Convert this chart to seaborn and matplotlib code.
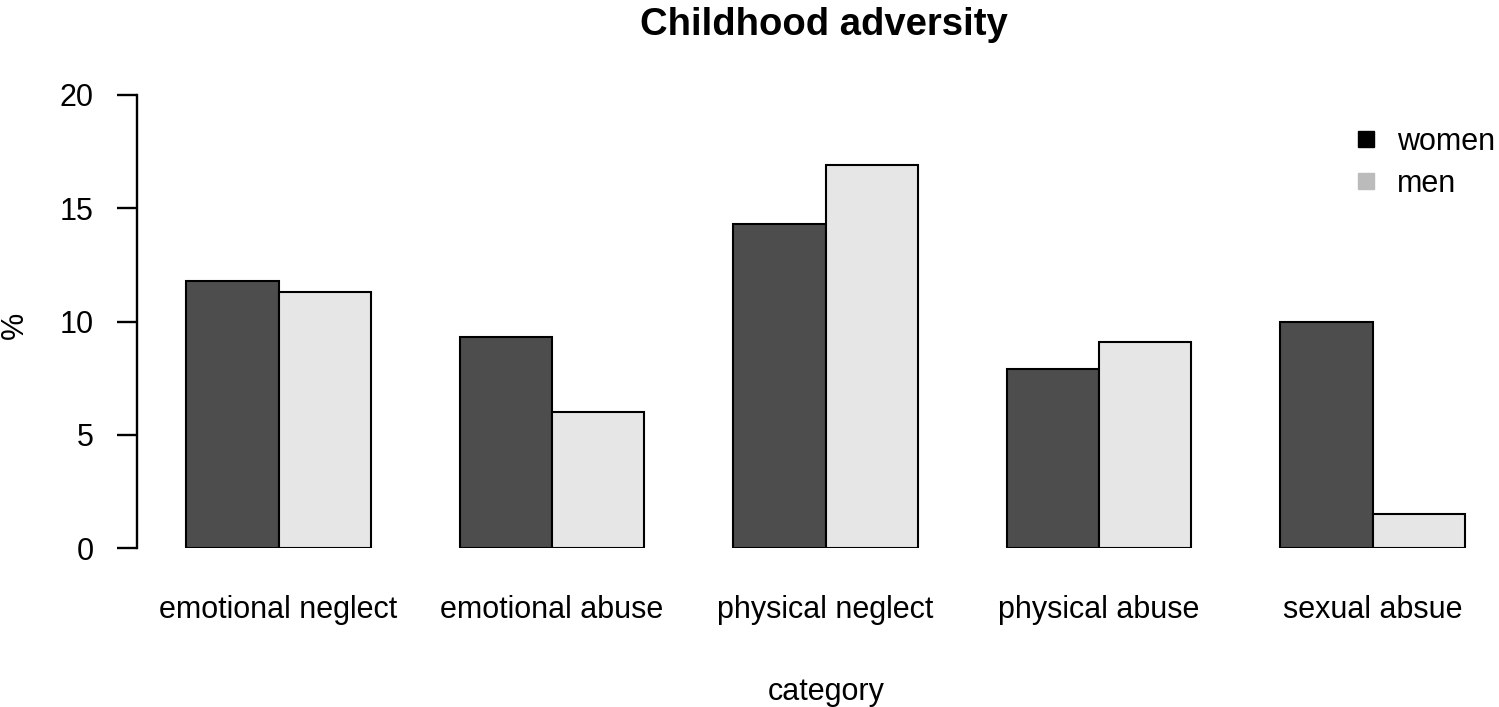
import numpy as np
import pandas as pd
import matplotlib
matplotlib.use("Agg")
import matplotlib.pyplot as plt
import seaborn as sns
from matplotlib.lines import Line2D

# data
categories = ["emotional neglect", "emotional abuse", "physical neglect",
              "physical abuse", "sexual absue"]
groups = ["women", "men"]
women_pct = [11.8, 9.3, 14.3, 7.9, 10.0]
men_pct = [11.3, 6.0, 16.9, 9.1, 1.5]
y_ticks = [0, 5, 10, 15, 20]

df = pd.DataFrame({
    "category": categories * 2,
    "sex": [groups[0]] * len(categories) + [groups[1]] * len(categories),
    "pct": women_pct + men_pct,
})

sns.set_style("white")
plt.rcParams["font.family"] = ["Liberation Sans", "DejaVu Sans"]
plt.rcParams.update({"text.color": "black", "axes.labelcolor": "black",
                     "xtick.color": "black", "ytick.color": "black"})

W, H = 1499, 707
fig = plt.figure(figsize=(W / 100, H / 100), dpi=100)
# axes: left spine at x=137px, y=0 at 548px, y=20 at 95px
ax = fig.add_axes([137 / W, (H - 548) / H, 1 - 137 / W, (548 - 95) / H])

sns.barplot(data=df, x="category", y="pct", hue="sex", order=categories,
            hue_order=groups, palette={"women": "#4d4d4d", "men": "#e6e6e6"},
            edgecolor="black", linewidth=1.5, width=0.674, errorbar=None,
            ax=ax, legend=False)

ax.set_xlim(-0.5174, 4.4625)
ax.set_ylim(0, 20)
ax.set_yticks(y_ticks)
ax.set_yticklabels([str(t) for t in y_ticks])

for s in ["top", "right", "bottom"]:
    ax.spines[s].set_visible(False)
ax.spines["left"].set_linewidth(1.7)
ax.spines["left"].set_color("black")

ax.tick_params(axis="y", length=14.4, width=1.7, pad=17, labelsize=22,
               left=True)
ax.tick_params(axis="x", length=0, pad=34, labelsize=22)

ax.set_xlabel("category", fontsize=22, labelpad=37)
ax.xaxis.label.set_x((826 - 137) / (W - 137))
ax.set_ylabel("")
fig.text(15 / W, 1 - 325 / H, "%", rotation=90, fontsize=22,
         ha="center", va="center")

fig.text(824 / W, 1 - 35 / H, "Childhood adversity", fontsize=27.5,
         fontweight="bold", ha="center", va="baseline")

handles = [Line2D([], [], marker="s", linestyle="none", markersize=11,
                  color=c) for c in ["black", "#bbbbbb"]]
ax.legend(handles, groups, loc="upper left", bbox_to_anchor=(1351 / W, 1 - 127 / H),
          bbox_transform=fig.transFigure, frameon=False, fontsize=22,
          handlelength=1.0, handletextpad=0.5, labelspacing=0.38,
          borderpad=0, borderaxespad=0)

fig.savefig("out.png", dpi=100)
